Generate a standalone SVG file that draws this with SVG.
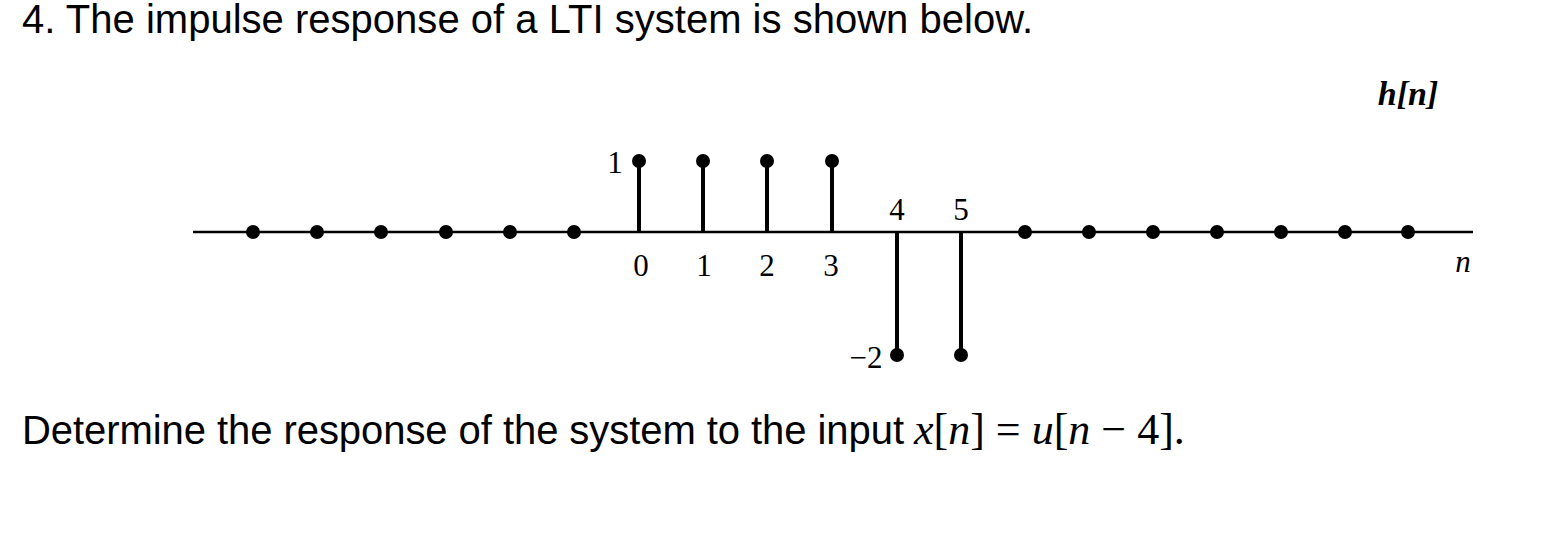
<svg xmlns="http://www.w3.org/2000/svg" width="1561" height="558" viewBox="0 0 1561 558">
<style>
.t{font-family:"Liberation Sans",Arial,sans-serif;font-size:40px;fill:#000}
.m{font-family:"Liberation Serif","Times New Roman",serif;font-size:44px;fill:#000}
.l{font-family:"Liberation Serif","Times New Roman",serif;font-size:31px;fill:#000}
.s{stroke:#000;stroke-width:4}
</style>
<rect width="1561" height="558" fill="#fff"/>
<text class="t" x="22" y="33" textLength="1011">4. The impulse response of a LTI system is shown below.</text>
<text class="t" x="22" y="444" textLength="882">Determine the response of the system to the input</text>
<text class="m" x="914" y="444"><tspan font-style="italic">x</tspan>[<tspan font-style="italic">n</tspan>] = <tspan font-style="italic">u</tspan>[<tspan font-style="italic">n</tspan> − 4].</text>
<g id="axis"><line x1="193" y1="232" x2="1473" y2="232" stroke="#000" stroke-width="2.5"/></g>
<g id="connectors">
<line class="s" x1="639" y1="232" x2="639" y2="161"/>
<line class="s" x1="703" y1="232" x2="703" y2="161"/>
<line class="s" x1="767" y1="232" x2="767" y2="161"/>
<line class="s" x1="832" y1="232" x2="832" y2="161"/>
<line class="s" x1="897" y1="232" x2="897" y2="355"/>
<line class="s" x1="961" y1="232" x2="961" y2="355"/>
</g>
<g id="samples" fill="#000">
<circle cx="253" cy="232" r="7"/><circle cx="317" cy="232" r="7"/><circle cx="381" cy="232" r="7"/><circle cx="446" cy="232" r="7"/><circle cx="510" cy="232" r="7"/><circle cx="574" cy="232" r="7"/>
<circle cx="639" cy="161" r="7"/><circle cx="703" cy="161" r="7"/><circle cx="767" cy="161" r="7"/><circle cx="832" cy="161" r="7"/>
<circle cx="897" cy="355" r="7"/><circle cx="961" cy="355" r="7"/>
<circle cx="1025" cy="232" r="7"/><circle cx="1089" cy="232" r="7"/><circle cx="1153" cy="232" r="7"/><circle cx="1217" cy="232" r="7"/><circle cx="1281" cy="232" r="7"/><circle cx="1345" cy="232" r="7"/><circle cx="1408" cy="232" r="7"/>
</g>
<g id="labels" class="l" text-anchor="middle">
<text x="641" y="276">0</text><text x="704" y="276">1</text><text x="767" y="276">2</text><text x="831" y="276">3</text>
<text x="897" y="220">4</text><text x="961" y="220">5</text>
<text x="615" y="173">1</text><text x="866" y="368">−2</text>
<text x="1463" y="272" font-style="italic">n</text>
<text x="1408" y="105" font-style="italic" font-weight="bold" font-size="34">h[n]</text>
</g>
</svg>
